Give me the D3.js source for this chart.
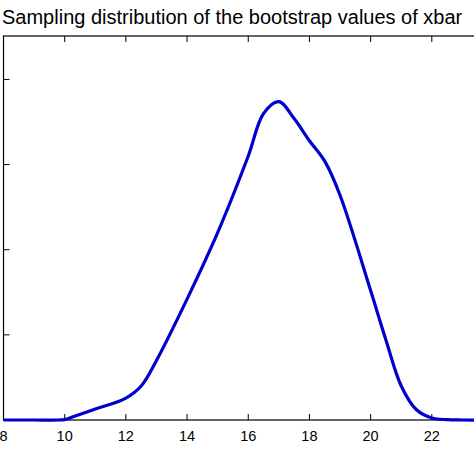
<!DOCTYPE html>
<html><head><meta charset="utf-8">
<script src="https://cdn.jsdelivr.net/npm/d3@7"></script>
<style>body{margin:0;background:#fff}svg{display:block}</style>
</head><body><div id="chart"></div>
<script>
const xs = [8, 9, 9.8, 10, 10.3, 11, 12, 12.5, 13, 14, 15, 16, 16.5, 17, 17.5, 18, 18.5, 19, 20, 20.5, 21, 21.5, 22, 22.5, 23, 24];
const ys = [0, 0, 0, 0.0002, 0.002, 0.0064, 0.0129, 0.020, 0.035, 0.071, 0.110, 0.155, 0.180, 0.187, 0.177, 0.164, 0.152, 0.132, 0.076, 0.047, 0.020, 0.006, 0.0012, 0.0002, 0, 0];
const xTicks = [8, 10, 12, 14, 16, 18, 20, 22, 24];
const xLabels = [8, 10, 12, 14, 16, 18, 20, 22];
const yTicks = [0, 0.05, 0.1, 0.15, 0.2];
const data = xs.map((x, i) => ({x: x, y: ys[i]}));

const W = 474, H = 474;
const svg = d3.select("#chart").append("svg").attr("width", W).attr("height", H);

const x = d3.scaleLinear().domain([8, 24]).range([3.5, 493]);
const y = d3.scaleLinear().domain([0, 0.2255]).range([420, 36]);

svg.append("rect")
    .attr("x", x(8)).attr("y", y(0.2255))
    .attr("width", x(24) - x(8)).attr("height", y(0) - y(0.2255))
    .style("fill", "none").style("stroke", "#000").style("stroke-width", 1.2);

const g = svg.append("g").style("stroke", "#000").style("stroke-width", 1);
xTicks.forEach(t => {
    g.append("line").attr("x1", x(t)).attr("x2", x(t)).attr("y1", y(0)).attr("y2", y(0) - 6);
    g.append("line").attr("x1", x(t)).attr("x2", x(t)).attr("y1", y(0.2255)).attr("y2", y(0.2255) + 6);
});
yTicks.forEach(t => {
    g.append("line").attr("x1", x(8)).attr("x2", x(8) + 6).attr("y1", y(t)).attr("y2", y(t));
});

svg.selectAll(".xlab").data(xLabels).enter().append("text")
    .attr("x", d => x(d)).attr("y", y(0) + 21)
    .style("text-anchor", "middle")
    .style("font-family", "Liberation Sans, Arial, sans-serif")
    .style("font-size", "14.5px")
    .text(d => d);

svg.append("text")
    .attr("x", 2).attr("y", 24)
    .style("font-family", "Liberation Sans, Arial, sans-serif")
    .style("font-size", "20px")
    .text("Sampling distribution of the bootstrap values of xbar");

const line = d3.line().x(d => x(d.x)).y(d => y(d.y)).curve(d3.curveCatmullRom.alpha(0.5));
svg.append("path").datum(data)
    .attr("d", line)
    .style("fill", "none").style("stroke", "#0000cc").style("stroke-width", 3.2);
</script></body></html>
